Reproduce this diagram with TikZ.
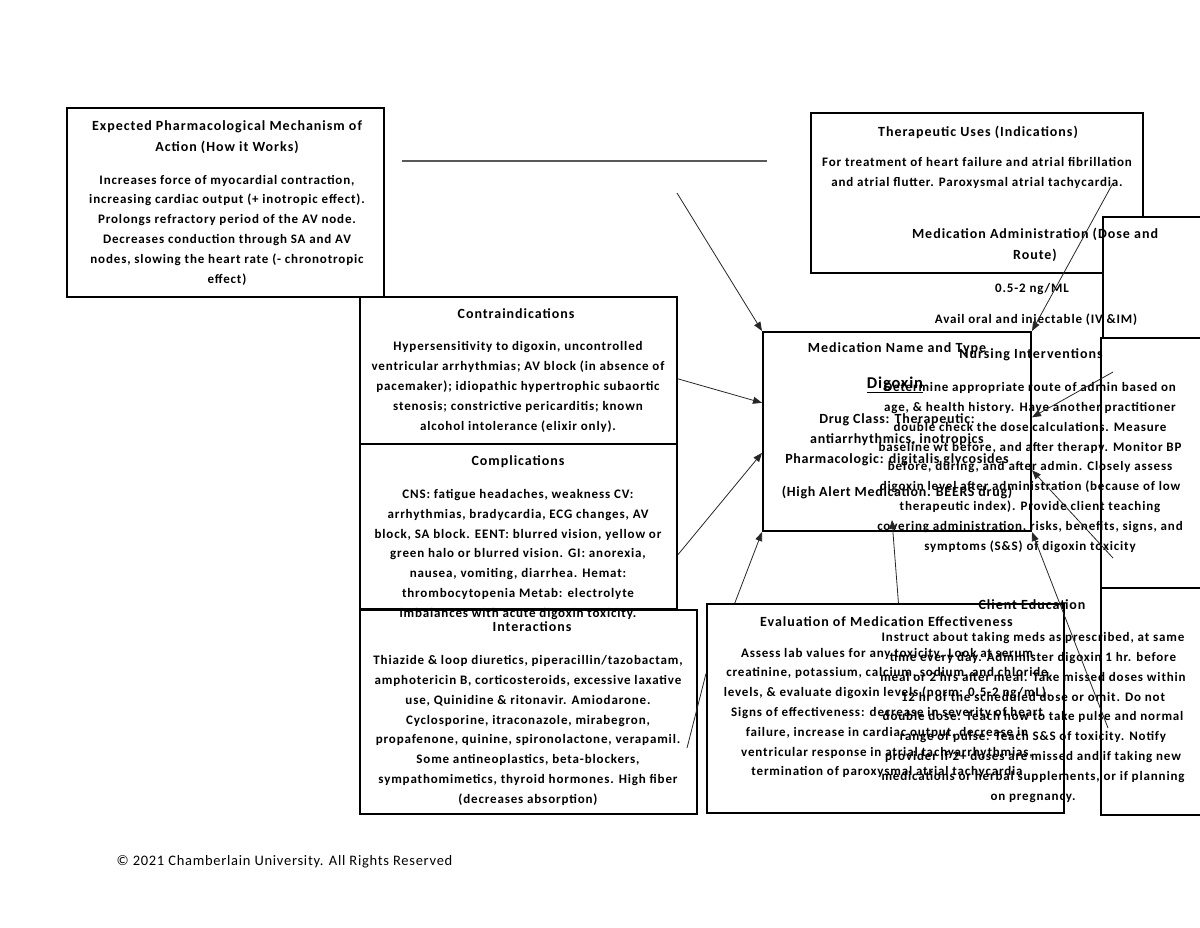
\documentclass[tikz,border=0pt]{standalone}
\usepackage{fontspec}
\setmainfont{Carlito}
\newfontfamily\bodyface[LetterSpace=6.5]{Carlito}
\newfontfamily\headface[LetterSpace=7]{Carlito}
\newfontfamily\classface[LetterSpace=5]{Carlito}
\newfontfamily\noteface[LetterSpace=5]{Carlito}
\usetikzlibrary{arrows.meta}
\newcommand\bodyfont{\bodyface\fontsize{13}{19.8}\selectfont\bfseries}
\newcommand\headfont{\headface\fontsize{14}{21}\selectfont\bfseries}
\newcommand\classfont{\classface\fontsize{14}{20}\selectfont\bfseries}
\newcommand\namefont{\classface\fontsize{16.5}{18}\selectfont\bfseries}
\newcommand\notefont{\noteface\fontsize{14.5}{16}\selectfont}
\tikzset{
  card/.style={draw, line width=2pt, fill=white, inner sep=0pt},
  head/.style={font=\headfont, align=center, inner sep=0pt},
  body/.style={font=\bodyfont, align=center, inner sep=0pt},
  link/.style={line width=0.8pt, black!85, -{Triangle[length=9pt,width=7pt]}},
  bare/.style={line width=0.8pt, black!85},
}
\begin{document}
\begin{tikzpicture}[x=1pt, y=-1pt]
    \useasboundingbox (0,0) rectangle (1200,927);
    % Boxes
    \node [card, minimum width=317pt, minimum height=189pt] (mech) at (225.5,202.5) {};
    \node [card, minimum width=332pt, minimum height=160pt] (thera) at (977,193) {};
    \node [card, minimum width=130pt, minimum height=121pt] (admbox) at (1168,277.5) {};
    \node [card, minimum width=130pt, minimum height=250pt] (nursbox) at (1166,463) {};
    \node [card, minimum width=130pt, minimum height=227pt] (edubox) at (1166,701.5) {};
    \node [card, minimum width=268pt, minimum height=199pt] (medname) at (897,431.5) {};
    \node [card, minimum width=317pt, minimum height=147pt] (contra) at (518.5,370.5) {};
    \node [card, minimum width=317pt, minimum height=165pt] (compl) at (518.5,526.5) {};
    \node [card, minimum width=337pt, minimum height=204pt] (inter) at (528.5,712) {};
    \node [card, minimum width=357pt, minimum height=209pt] (evalu) at (885.5,708.5) {};
    % Top rule
    \coordinate (ruleL) at (402,161);
    \coordinate (ruleR) at (767,161);
    \draw [line width=1.4pt, black!65] (ruleL) -- (ruleR);
    % Texts
    \node [head] (mechT) at (227,137.5) {Expected Pharmacological Mechanism of\\Action (How it Works)};
    \node [body] (mechB) at (227,230) {Increases force of myocardial contraction,\\increasing cardiac output (+ inotropic effect).\\Prolongs refractory period of the AV node.\\Decreases conduction through SA and AV\\nodes, slowing the heart rate (- chronotropic\\effect)};
    \node [head] (theraT) at (978,132) {Therapeutic Uses (Indications)};
    \node [body] (theraB) at (977,173) {For treatment of heart failure and atrial fibrillation\\and atrial flutter. Paroxysmal atrial tachycardia.};
    \node [head] (admT) at (1035,245) {Medication Administration (Dose and\\Route)};
    \node [body] (admB1) at (1032,289) {0.5-2 ng/ML};
    \node [body] (admB2) at (1036,320) {Avail oral and injectable (IV \&IM)};
    \node [head] (nameT) at (897,349) {Medication Name and Type};
    \node [font=\namefont, inner sep=0pt] (drug) at (895,385) {\underline{Digoxin}};
    \node [head, font=\classfont] (drugC) at (897,440) {Drug Class: Therapeutic:\\antiarrhythmics, inotropics\\Pharmacologic: digitalis glycosides};
    \node [head, font=\classfont] (alert) at (897,492) {(High Alert Medication. BEERS drug)};
    \node [head] (nursT) at (1031,355) {Nursing Interventions};
    \node [body] (nursB) at (1030,467.5) {Determine appropriate route of admin based on\\age, \& health history. Have another practitioner\\double check the dose calculations. Measure\\baseline wt before, and after therapy. Monitor BP\\before, during, and after admin. Closely assess\\digoxin level after administration (because of low\\therapeutic index). Provide client teaching\\covering administration, risks, benefits, signs, and\\symptoms (S\&S) of digoxin toxicity};
    \node [head] (contraT) at (516,314) {Contraindications};
    \node [body] (contraB) at (518,387) {Hypersensitivity to digoxin, uncontrolled\\ventricular arrhythmias; AV block (in absence of\\pacemaker); idiopathic hypertrophic subaortic\\stenosis; constrictive pericarditis; known\\alcohol intolerance (elixir only).};
    \node [head] (complT) at (518,462) {Complications};
    \node [body] (complB) at (518,554.5) {CNS: fatigue headaches, weakness CV:\\arrhythmias, bradycardia, ECG changes, AV\\block, SA block. EENT: blurred vision, yellow or\\green halo or blurred vision. GI: anorexia,\\nausea, vomiting, diarrhea. Hemat:\\thrombocytopenia Metab: electrolyte\\imbalances with acute digoxin toxicity.};
    \node [head] (interT) at (532,627) {Interactions};
    \node [body] (interB) at (528,730.5) {Thiazide \& loop diuretics, piperacillin/tazobactam,\\amphotericin B, corticosteroids, excessive laxative\\use, Quinidine \& ritonavir. Amiodarone.\\Cyclosporine, itraconazole, mirabegron,\\propafenone, quinine, spironolactone, verapamil.\\Some antineoplastics, beta-blockers,\\sympathomimetics, thyroid hormones. High fiber\\(decreases absorption)};
    \node [head] (evaluT) at (886.5,622) {Evaluation of Medication Effectiveness};
    \node [body] (evaluB) at (887,713) {Assess lab values for any toxicity. Look at serum\\creatinine, potassium, calcium, sodium, and chloride\\levels, \& evaluate digoxin levels (norm: 0.5-2 ng/mL).\\Signs of effectiveness: decrease in severity of heart\\failure, increase in cardiac output, decrease in\\ventricular response in atrial tachyarrhythmias,\\termination of paroxysmal atrial tachycardia};
    \node [head] (eduT) at (1032,605) {Client Education};
    \node [body] (eduB) at (1033,717.5) {Instruct about taking meds as prescribed, at same\\time every day. Administer digoxin 1 hr. before\\meal or 2 hrs after meal. Take missed doses within\\12 hr of the scheduled dose or omit. Do not\\double dose. Teach how to take pulse and normal\\range of pulse. Teach S\&S of toxicity. Notify\\provider if 2+ doses are missed and if taking new\\medications or herbal supplements, or if planning\\on pregnancy.};
    \node [font=\notefont, inner sep=0pt] (copy) at (284.5,862) {© 2021 Chamberlain University. All Rights Reserved};
    % Connectors
    \coordinate (mechTail) at (677,193);
    \coordinate (theraTail) at (1113,183);
    \coordinate (nursTailA) at (1113,372);
    \coordinate (nursTailB) at (1113,558);
    \coordinate (eduTail) at (1108,728);
    \coordinate (interTail) at (687,748);
    \coordinate (evalTip) at (892,520);
    \draw [link] (mechTail) -- (medname.north west);
    \draw [link] (contra.-3.4) -- (medname.168.8);
    \draw [link] (compl.-10.2) -- (medname.189.1);
    \draw [link] (evalu.145) -- (medname.south west);
    \draw [link] (evalu.83.7) -- (evalTip);
    \draw [bare] (interTail) -- (evalu.169);
    \draw [link] (theraTail) -- (medname.north east);
    \draw [link] (nursTailA) -- (medname.6.2);
    \draw [link] (nursTailB) -- (medname.-16);
    \draw [link] (eduTail) -- (medname.south east);
\end{tikzpicture}
\end{document}
